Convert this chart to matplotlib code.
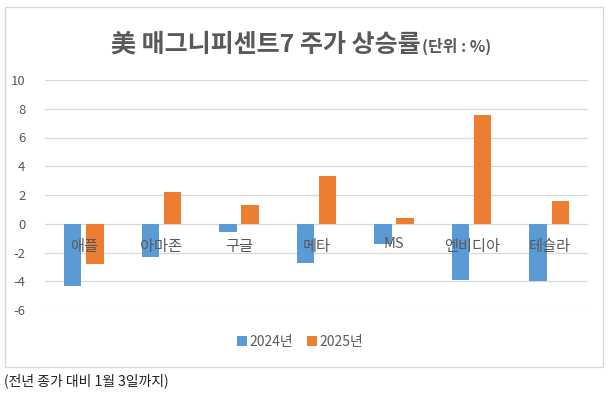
import numpy as np
import matplotlib.pyplot as plt
from matplotlib.patches import Rectangle

plt.rcParams['font.family'] = ['Noto Sans CJK KR', 'DejaVu Sans']

companies = ['애플', '아마존', '구글', '메타', 'MS', '엔비디아', '테슬라']
y2024 = [-4.3, -2.3, -0.6, -2.7, -1.4, -3.9, -4.0]
y2025 = [-2.8, 2.2, 1.3, 3.3, 0.4, 7.6, 1.6]
yticks = [-6, -4, -2, 0, 2, 4, 6, 8, 10]

blue = '#5B9BD5'
orange = '#ED7D31'
gray = '#595959'

fig = plt.figure(figsize=(6.14, 3.97), dpi=100)
fig.patch.set_facecolor('white')

# chart area frame
fig.patches.append(Rectangle((5/614, 1 - 367/397), 598/614, 360/397,
                             transform=fig.transFigure, fill=False,
                             edgecolor='#D9D9D9', linewidth=1))

ax = fig.add_axes([45/614, 1 - 310/397, 543/614, 230/397])
x = np.arange(len(companies))
w = 0.225
ax.bar(x - 0.143, y2024, w, color=blue, label='2024년', zorder=3)
ax.bar(x + 0.143, y2025, w, color=orange, label='2025년', zorder=3)

ax.set_xlim(-0.5, len(companies) - 0.5)
ax.set_ylim(-6, 10)
ax.set_yticks(yticks)
ax.set_yticklabels([str(v) for v in yticks], color=gray, fontsize=9.5)
ax.tick_params(axis='y', length=0, pad=14)
ax.set_xticks([])
for v in yticks:
    ax.axhline(v, color='#D9D9D9', linewidth=0.9, zorder=1)
for s in ax.spines.values():
    s.set_visible(False)

for i, name in enumerate(companies):
    fs = 10.5 if name == 'MS' else 11
    yy = -1.4 if name == 'MS' else -1.55
    ax.text(i, yy, name, ha='center', va='center', color=gray,
            fontsize=fs, zorder=4)

ax.legend(loc='center', bbox_to_anchor=(0.47, -0.14), ncol=2, frameon=False,
          fontsize=10, handlelength=0.7, handleheight=0.7,
          handletextpad=0.2, columnspacing=1.0, labelcolor=gray)

fig.text(421/614, 1 - 44/397, '美 매그니피센트7 주가 상승률', ha='right', va='center',
         fontsize=18, fontweight='bold', color=gray)
fig.text(422/614, 1 - 46/397, '(단위 : %)', ha='left', va='center',
         fontsize=11.5, fontweight='bold', color=gray)

fig.text(4/614, 1 - 381/397, '(전년 종가 대비 1월 3일까지)', ha='left', va='center',
         fontsize=10, color='#222222')

fig.savefig('out.png', dpi=100, facecolor='white')
